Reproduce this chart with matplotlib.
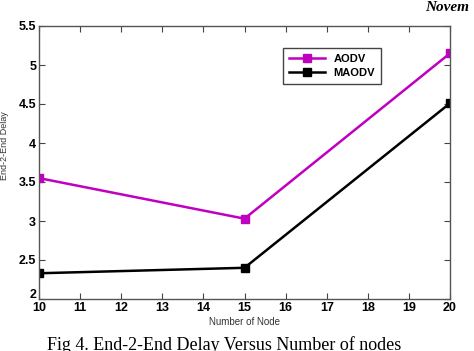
import matplotlib.pyplot as plt
import matplotlib.transforms as mtransforms

plt.rcParams['font.family'] = ['Liberation Sans', 'DejaVu Sans']

# data
nodes = [10, 15, 20]
aodv = [3.55, 3.03, 5.15]
maodv = [2.33, 2.40, 4.51]

xticks = list(range(10, 21))
yticks = [2, 2.5, 3, 3.5, 4, 4.5, 5, 5.5]
ytick_labels = ['2', '2.5', '3', '3.5', '4', '4.5', '5', '5.5']

fig = plt.figure(figsize=(4.74, 3.51), dpi=100)
ax = fig.add_axes([39 / 474, 1 - 299 / 351, 411 / 474, 273 / 351])

ax.plot(nodes, aodv, color='#c000c0', marker='s', markersize=6, linewidth=1.8, label='AODV')
ax.plot(nodes, maodv, color='black', marker='s', markersize=6, linewidth=1.8, label='MAODV')

ax.set_xlim(10, 20)
ax.set_ylim(2, 5.5)
ax.set_xticks(xticks)
ax.set_yticks(yticks)
ax.set_yticklabels(ytick_labels)
ax.tick_params(direction='in', top=True, right=True, length=4, width=0.8,
               color='#444444', labelsize=9, pad=2)
for lbl in ax.get_xticklabels() + ax.get_yticklabels():
    lbl.set_fontweight('bold')
# the "2" sits a little higher so it clears the "10"
lbl2 = ax.get_yticklabels()[0]
lbl2.set_transform(lbl2.get_transform() +
                   mtransforms.ScaledTranslation(0, 4 / 72, fig.dpi_scale_trans))
for sp in ax.spines.values():
    sp.set_color('#555555')
    sp.set_linewidth(1.0)

ax.set_xlabel('Number of Node', fontsize=7, labelpad=2, color='#333333')
ax.set_ylabel('End-2-End Delay', fontsize=6.5, color='#333333')
ax.yaxis.set_label_coords(-0.073, 0.56)

leg = ax.legend(loc='upper left', bbox_to_anchor=(0.594, 0.919), borderaxespad=0,
                prop={'weight': 'bold', 'size': 8}, fancybox=False,
                edgecolor='#444444', handlelength=3.2, borderpad=0.55,
                labelspacing=0.3, framealpha=1)

fig.text(224 / 474, 0.002, 'Fig 4. End-2-End Delay Versus Number of nodes',
         ha='center', va='baseline', family='Liberation Serif', fontsize=13)
fig.text(425 / 474, 1 - 1 / 351, 'Novem', ha='left', va='top',
         family='Liberation Serif', style='italic', weight='bold', fontsize=11)

fig.savefig('out.png', dpi=100)
